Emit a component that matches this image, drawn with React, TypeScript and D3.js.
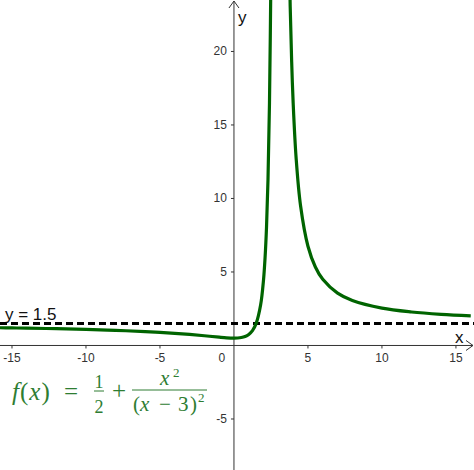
import React from 'react'
import * as d3 from 'd3'

// points, left branch and right branch of the curve
const leftX = [-16, -15, -14, -12, -10, -8, -6, -5, -4, -3, -2, -1, -0.5, 0, 0.25, 0.5, 0.75, 1, 1.25, 1.5, 1.8, 2, 2.1, 2.2, 2.3, 2.4, 2.5, 2.55]
const leftY = [1.209, 1.194, 1.178, 1.14, 1.092, 1.029, 0.944, 0.891, 0.827, 0.75, 0.66, 0.5625, 0.52, 0.5, 0.508, 0.54, 0.611, 0.75, 1.01, 1.5, 2.75, 4.5, 5.94, 8.06, 11.3, 16.5, 25.5, 30.6]
const rightX = [3.5, 3.6, 3.7, 3.8, 3.9, 4, 4.2, 4.5, 5, 5.5, 6, 7, 8, 10, 12, 14, 16]
const rightY = [49.5, 36.5, 28.4, 23.06, 19.28, 16.5, 12.75, 9.5, 6.75, 5.34, 4.5, 3.56, 3.06, 2.54, 2.278, 2.12, 2.015]

const xTicks = [-15, -10, -5, 0, 5, 10, 15]
const yTicks = [-5, 5, 10, 15, 20]
const asymptote = 1.5

const W = 474
const H = 470
const green = '#006400'
const textGreen = '#2e7d32'
const serif = "'Liberation Serif', 'DejaVu Serif', 'Times New Roman', serif"
const sans = "'Liberation Sans', Arial, sans-serif"

export default function App() {
  const x = d3.scaleLinear().domain([-15.81, 16.22]).range([0, W])
  const y = d3.scaleLinear().domain([-8.47, 23.5]).range([H, 0])

  const line = d3.line<[number, number]>()
    .x(d => x(d[0]))
    .y(d => y(d[1]))
    .curve(d3.curveCatmullRom)

  const left = leftX.map((v, i) => [v, leftY[i]] as [number, number])
  const right = rightX.map((v, i) => [v, rightY[i]] as [number, number])

  const x0 = x(0)
  const y0 = y(0)
  const fmt = (v: number) => (v < 0 ? '-' + Math.abs(v) : String(v))

  return (
    <svg width={W} height={H} style={{ position: 'absolute', left: 0, top: 0, background: '#fff' }}>
      <defs>
        <clipPath id="plot">
          <rect x={0} y={0} width={W} height={H} />
        </clipPath>
      </defs>

      {/* axes */}
      <g stroke="#333" strokeWidth={1} fill="none">
        <line x1={0} x2={W - 1} y1={y0} y2={y0} />
        <line x1={x0} x2={x0} y1={1} y2={H} />
        <path d={`M${W - 8},${y0 - 5} L${W - 1},${y0} L${W - 8},${y0 + 5}`} />
        <path d={`M${x0 - 5},${8} L${x0},${1} L${x0 + 5},${8}`} />
        {xTicks.filter(t => t !== 0).map(t => (
          <line key={t} x1={x(t)} x2={x(t)} y1={y0} y2={y0 + 3} />
        ))}
        {yTicks.map(t => (
          <line key={t} x1={x0 - 3} x2={x0} y1={y(t)} y2={y(t)} />
        ))}
      </g>

      <g fontFamily={sans} fontSize={12} fill="#333">
        {xTicks.map(t => (
          <text key={t} x={t === 0 ? x0 - 12 : x(t)} y={y0 + 17} textAnchor="middle">{fmt(t)}</text>
        ))}
        {yTicks.map(t => (
          <text key={t} x={x0 - 7} y={y(t) + 4} textAnchor="end">{fmt(t)}</text>
        ))}
      </g>
      <g fontFamily={sans} fill="#111">
        <text x={455} y={343} fontSize={17}>x</text>
        <text x={238} y={23} fontSize={17}>y</text>
        <text x={5} y={320} fontSize={17}>y = 1.5</text>
      </g>

      {/* horizontal asymptote */}
      <line x1={0} x2={W} y1={y(asymptote)} y2={y(asymptote)} stroke="#000" strokeWidth={3} strokeDasharray="7,4" />

      {/* curve */}
      <g clipPath="url(#plot)" fill="none" stroke={green} strokeWidth={3.2} strokeLinejoin="round">
        <path d={line(left) || ''} />
        <path d={line(right) || ''} />
      </g>

      {/* formula */}
      <g fontFamily={serif} fill={textGreen}>
        <text x={12} y={400} fontSize={25} letterSpacing={1}>
          <tspan fontStyle="italic">f</tspan>(<tspan fontStyle="italic">x</tspan>)
        </text>
        <text x={64} y={400} fontSize={25}>=</text>
        <text x={99} y={388} fontSize={18} textAnchor="middle">1</text>
        <line x1={94} x2={104} y1={391} y2={391} stroke={textGreen} strokeWidth={1} />
        <text x={99} y={413} fontSize={18} textAnchor="middle">2</text>
        <text x={112} y={399} fontSize={25}>+</text>
        <text x={160} y={385} fontSize={21} fontStyle="italic">x</text>
        <text x={173} y={377} fontSize={13}>2</text>
        <line x1={132} x2={207} y1={390} y2={390} stroke={textGreen} strokeWidth={1} />
        <text x={133} y={411} fontSize={21}>(</text>
        <text x={140} y={411} fontSize={21} fontStyle="italic">x</text>
        <text x={159} y={411} fontSize={21}>−</text>
        <text x={178} y={411} fontSize={21}>3</text>
        <text x={190} y={411} fontSize={21}>)</text>
        <text x={198} y={402} fontSize={13}>2</text>
      </g>
    </svg>
  )
}
